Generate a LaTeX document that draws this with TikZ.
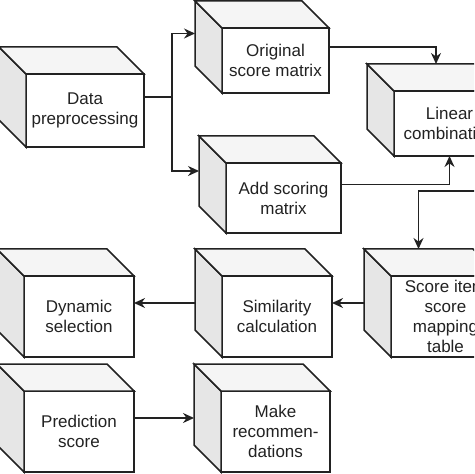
\documentclass[tikz,border=0pt]{standalone}
\usepackage{fontspec}
\setmainfont{Liberation Sans}
\usetikzlibrary{calc,arrows.meta}
\definecolor{topgray}{HTML}{F5F5F5}
\definecolor{sidegray}{HTML}{E6E6E6}
\definecolor{linegray}{HTML}{222222}
\def\cubedepth{27}
\def\halfdepth{13.5}
\begin{document}
\begin{tikzpicture}[x=0.5pt, y=-0.5pt, line join=miter, font=\fontsize{8.5}{10}\selectfont, >={Stealth[length=5.5pt,width=5pt]},
	front/.style={draw=linegray, fill=white, line width=0.75pt, outer sep=0pt, inner sep=0pt, align=center, text=linegray, minimum height=40.5pt, minimum width=55pt},
	face/.style={draw=linegray, line width=0.75pt},
	link/.style={draw=linegray, line width=0.75pt, ->}]
\useasboundingbox (0,0) rectangle (474,474);
\clip (0,0) rectangle (474,474);

\node[front, minimum width=59pt, minimum height=36.5pt] (data) at (85,110.5) {Data\\preprocessing};
\node[front, minimum width=53.5pt, minimum height=32.5pt] (orig) at (275.5,60.5) {Original\\score matrix};
\node[front, minimum width=57.5pt, minimum height=35pt] (add) at (283.5,198) {Add scoring\\matrix};
\node[front, minimum width=55.5pt, minimum height=32.5pt] (lin) at (449.5,123.5) {Linear\\combination};
\node[front, minimum width=54.5pt] (score) at (445.5,316.5) {Score item\\score\\mapping\\table};
\node[front] (sim) at (277,316.5) {Similarity\\calculation};
\node[front] (dyn) at (79,316.5) {Dynamic\\selection};
\node[front] (pred) at (79,431.5) {Prediction\\score};
\node[front, minimum width=54.5pt] (make) at (275.5,431.5) {Make\\recommen-\\dations};

% side and top faces of the cubes
\foreach \n in {data,orig,add,lin,score,sim,dyn,pred,make}{
	\draw[face, fill=sidegray] ($(\n.north west)+(-\cubedepth,-\cubedepth)$) -- (\n.north west) -- (\n.south west) -- ($(\n.south west)+(-\cubedepth,-\cubedepth)$) -- cycle;
	\draw[face, fill=topgray] ($(\n.north west)+(-\cubedepth,-\cubedepth)$) -- ($(\n.north east)+(-\cubedepth,-\cubedepth)$) -- (\n.north east) -- (\n.north west) -- cycle;
}

\coordinate (split) at ($(data.east)+(28,-\halfdepth)$);
\draw[link] ($(data.east)+(0,-\halfdepth)$) -- (split) |- ($(orig.west)+(-\cubedepth,-\cubedepth)$);
\draw[link] (split) |- ($(add.west)+(-\cubedepth,-\cubedepth)$);
\draw[link] ($(orig.east)+(0,-\halfdepth)$) -| ($(lin.north)+(-\halfdepth,-\cubedepth)$);
\draw[link] ($(add.east)+(0,-\halfdepth)$) -| (lin.south);
\draw[link] ($(lin.east)+(0,-\halfdepth)$) -- ++(15,0) -- ++(0,81) -| ($(score.north)+(-\cubedepth,-\cubedepth)$);
\draw[link] ($(score.west)+(-\cubedepth,-\halfdepth)$) -- ($(sim.east)+(0,-\halfdepth)$);
\draw[link] ($(sim.west)+(-\cubedepth,-\halfdepth)$) -- ($(dyn.east)+(0,-\halfdepth)$);
\draw[link] ($(pred.east)+(0,-\halfdepth)$) -- ($(make.west)+(-\cubedepth,-\halfdepth)$);
\end{tikzpicture}
\end{document}
